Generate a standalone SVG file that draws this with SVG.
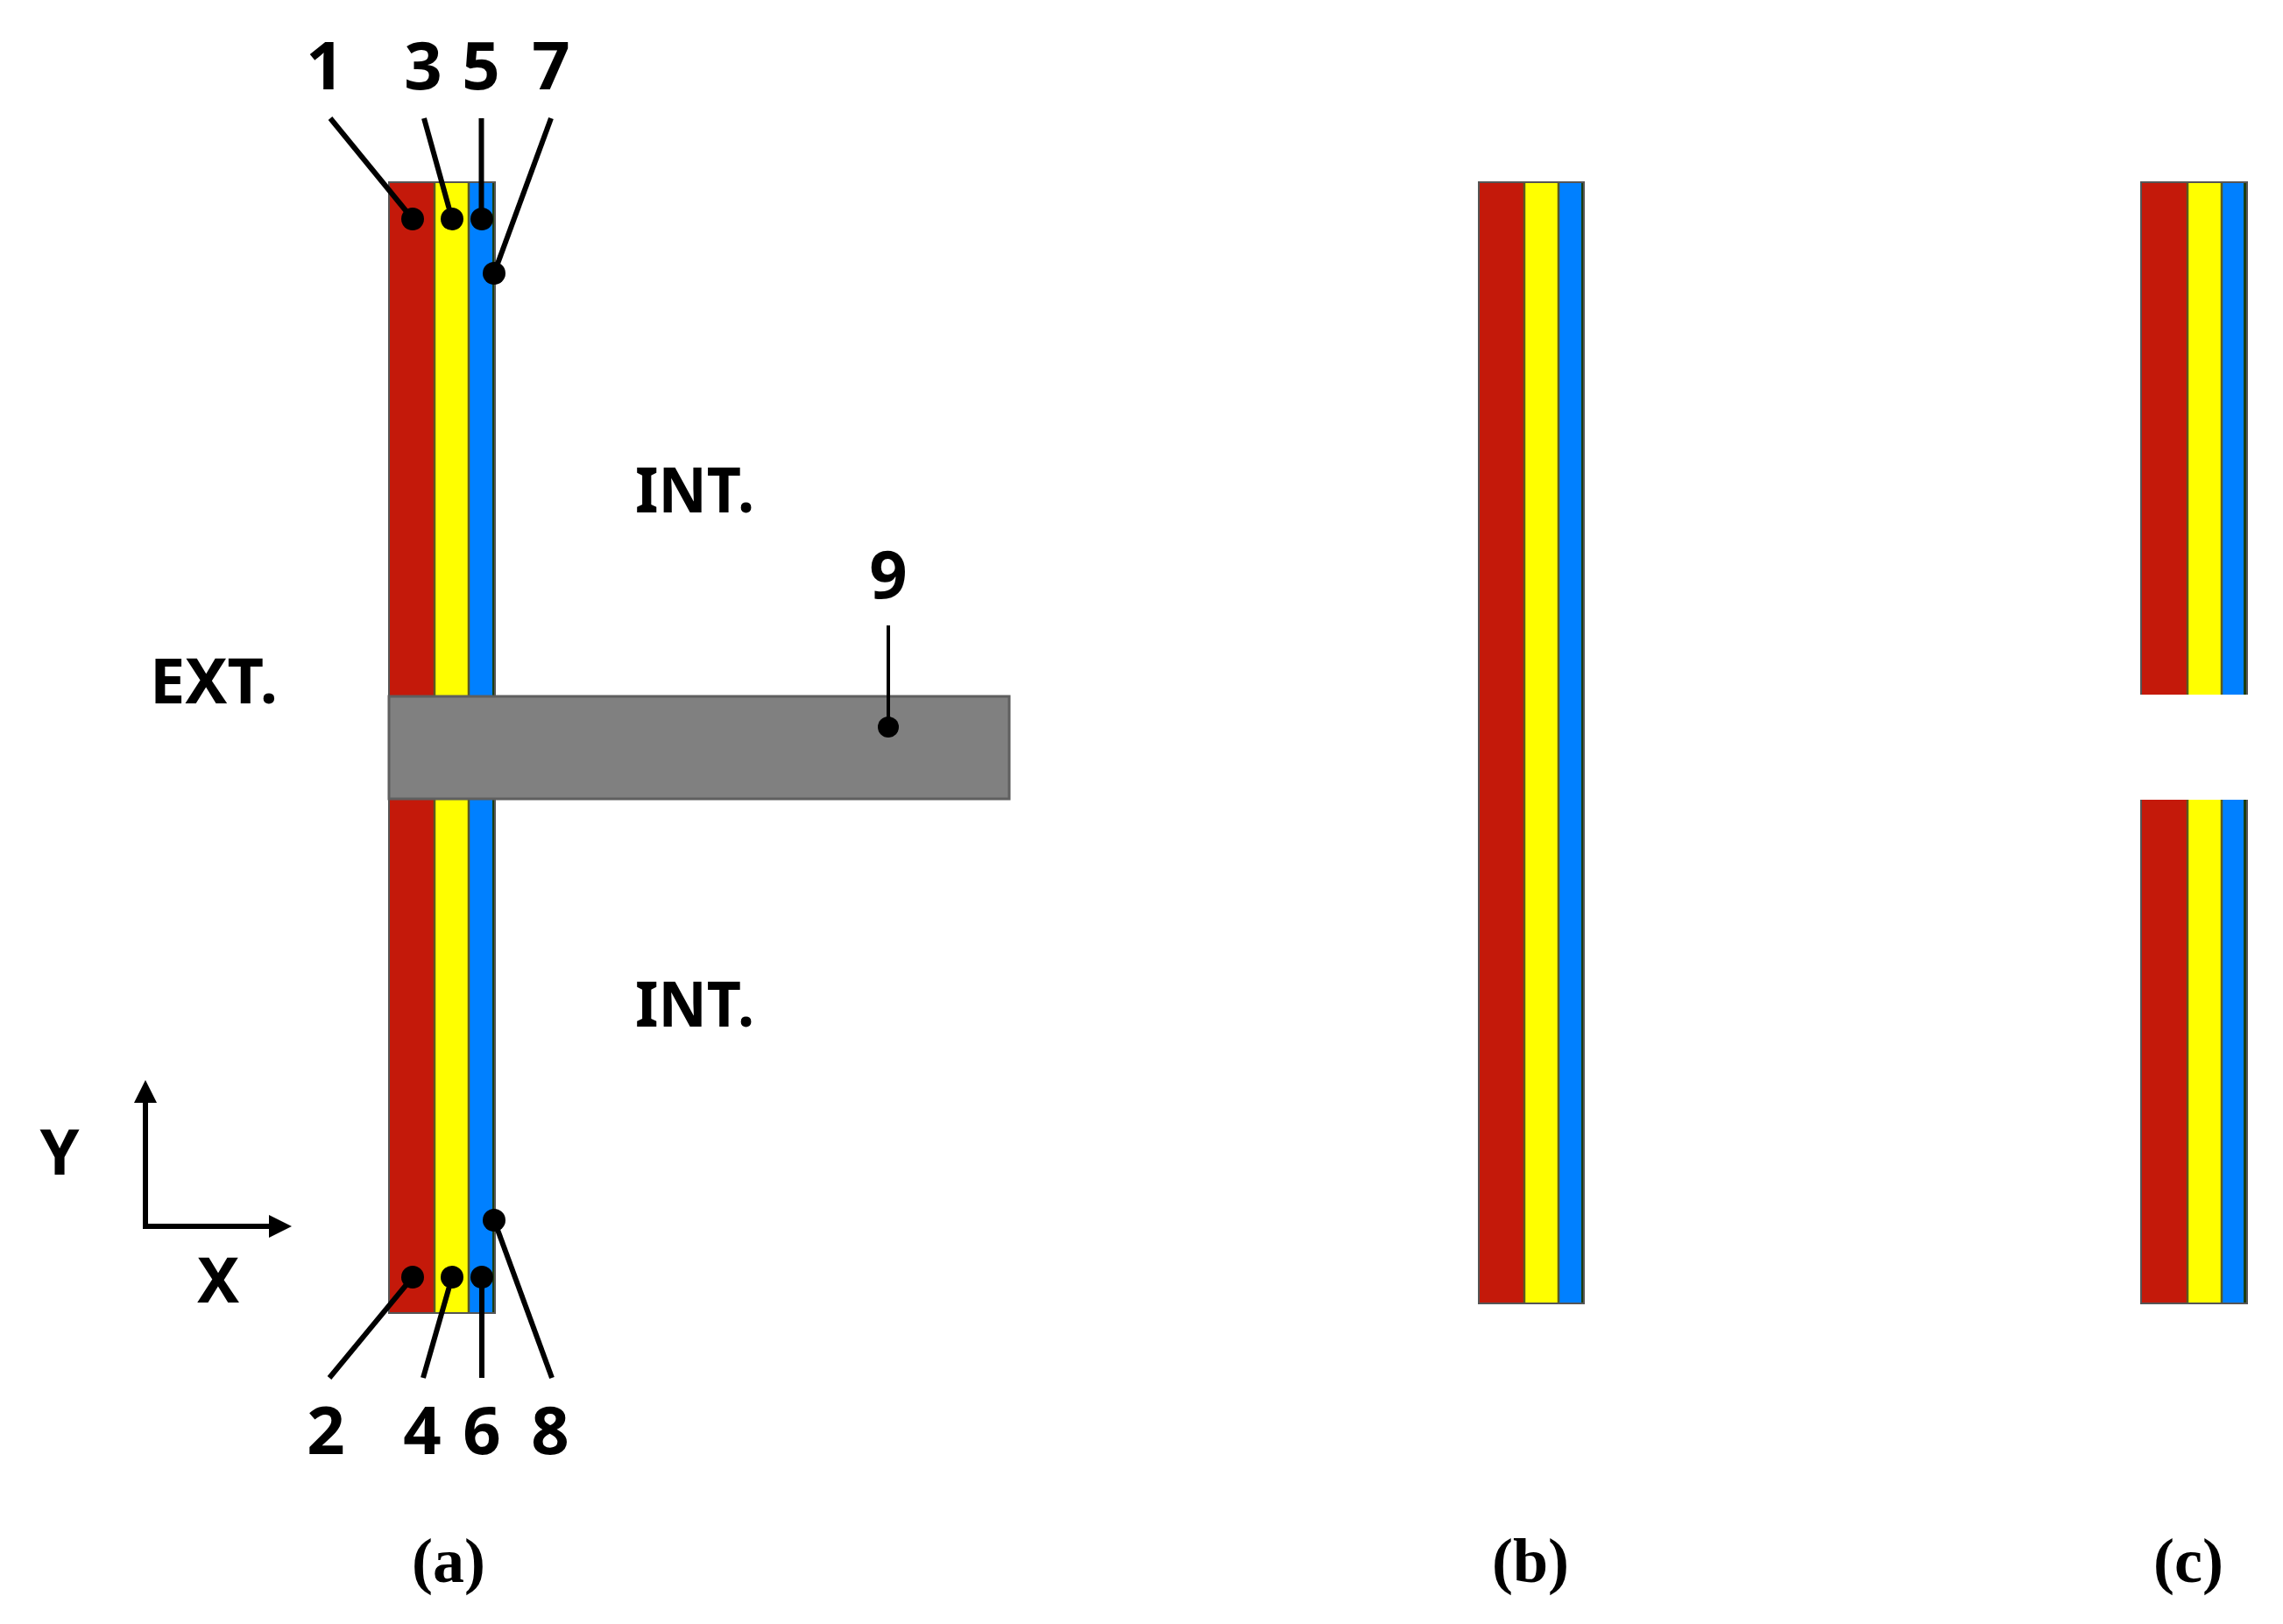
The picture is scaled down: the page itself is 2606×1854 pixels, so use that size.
<svg xmlns="http://www.w3.org/2000/svg" width="2606" height="1854" viewBox="0 0 2606 1854">
<style>
.r{fill:#c4190a}.y{fill:#ffff00}.b{fill:#0080ff}.e{fill:#1c3d10}
.o{fill:none;stroke:#555;stroke-width:2}
.s{stroke:#5a5a20;stroke-width:2.5;fill:none}
.l{font-family:"Noto Sans","Open Sans",sans-serif;font-weight:700;font-size:72px;fill:#000;text-anchor:middle}
.n{font-size:76px}
.c{font-family:"Liberation Serif",serif;font-weight:700;font-size:72px;fill:#000;text-anchor:middle}
.k{stroke:#000;stroke-width:6;fill:none;stroke-linecap:butt}
.d{fill:#000}
</style>
<defs>
<marker id="ah" markerUnits="userSpaceOnUse" markerWidth="28" markerHeight="28" refX="2" refY="14" orient="auto"><path d="M0 1L26 14L0 27Z" fill="#000"/></marker>
</defs>
<rect width="2606" height="1854" fill="#fff"/>
<g id="wall-a">
<rect class="r" x="444" y="208" width="52" height="1291"/>
<rect class="y" x="496" y="208" width="39" height="1291"/>
<rect class="b" x="535" y="208" width="27" height="1291"/>
<rect class="e" x="562" y="208" width="3" height="1291"/>
<path class="s" d="M496 208V1499M535 208V1499"/>
<rect class="o" x="444" y="208" width="121" height="1291"/>
</g>
<g id="beam"><rect x="444" y="795" width="708" height="117" fill="#808080" stroke="#5f5f5f" stroke-width="3"/></g>
<g id="wall-b">
<rect class="r" x="1688" y="208" width="52" height="1280"/>
<rect class="y" x="1740" y="208" width="39" height="1280"/>
<rect class="b" x="1779" y="208" width="26" height="1280"/>
<rect class="e" x="1805" y="208" width="3" height="1280"/>
<path class="s" d="M1740 208V1488M1779 208V1488"/>
<rect class="o" x="1688" y="208" width="120" height="1280"/>
</g>
<g id="wall-c-upper">
<rect class="r" x="2444" y="208" width="53" height="585"/>
<rect class="y" x="2497" y="208" width="39" height="585"/>
<rect class="b" x="2536" y="208" width="25" height="585"/>
<rect class="e" x="2561" y="208" width="4" height="585"/>
<path class="s" d="M2497 208V793M2536 208V793"/>
<path class="o" d="M2444 793V208H2565V793"/>
</g>
<g id="wall-c-lower">
<rect class="r" x="2444" y="913" width="53" height="575"/>
<rect class="y" x="2497" y="913" width="39" height="575"/>
<rect class="b" x="2536" y="913" width="25" height="575"/>
<rect class="e" x="2561" y="913" width="4" height="575"/>
<path class="s" d="M2497 913V1488M2536 913V1488"/>
<path class="o" d="M2444 913V1488H2565V913"/>
</g>
<g id="connectors">
<path class="k" d="M377 135L471 250"/>
<path class="k" d="M484 135L516 250"/>
<path class="k" d="M549.500 135V250"/>
<path class="k" d="M629 135L564 312"/>
<path class="k" d="M376 1573L471 1458"/>
<path class="k" d="M483 1573L516 1458"/>
<path class="k" d="M550 1573V1458"/>
<path class="k" d="M630 1573L564 1393"/>
<path class="k" d="M1014 714V830" style="stroke-width:4"/>
<path class="k" d="M166 1400V1257" marker-end="url(#ah)"/>
<path class="k" d="M163 1400H309" marker-end="url(#ah)"/>
</g>
<g id="probes">
<circle class="d" cx="471" cy="250" r="13"/>
<circle class="d" cx="516" cy="250" r="13"/>
<circle class="d" cx="550" cy="250" r="13"/>
<circle class="d" cx="564" cy="312" r="13"/>
<circle class="d" cx="471" cy="1458" r="13"/>
<circle class="d" cx="516" cy="1458" r="13"/>
<circle class="d" cx="550" cy="1458" r="13"/>
<circle class="d" cx="564" cy="1393" r="13"/>
<circle class="d" cx="1014" cy="830" r="12"/>
</g>
<g id="labels">
<text class="l n" x="371" y="102">1</text>
<text class="l n" x="483" y="102">3</text>
<text class="l n" x="549" y="102">5</text>
<text class="l n" x="629" y="102">7</text>
<text class="l n" x="372" y="1660">2</text>
<text class="l n" x="482" y="1660">4</text>
<text class="l n" x="550" y="1660">6</text>
<text class="l n" x="628" y="1660">8</text>
<text class="l n" x="1014" y="683">9</text>
<text class="l" x="244" y="803">EXT.</text>
<text class="l" x="793" y="585" textLength="136" lengthAdjust="spacingAndGlyphs">INT.</text>
<text class="l" x="793" y="1172" textLength="136" lengthAdjust="spacingAndGlyphs">INT.</text>
<text class="l" x="68" y="1341">Y</text>
<text class="l" x="249" y="1487">X</text>
<text class="c" x="512" y="1806">(a)</text>
<text class="c" x="1747" y="1806">(b)</text>
<text class="c" x="2498" y="1806">(c)</text>
</g>
</svg>
